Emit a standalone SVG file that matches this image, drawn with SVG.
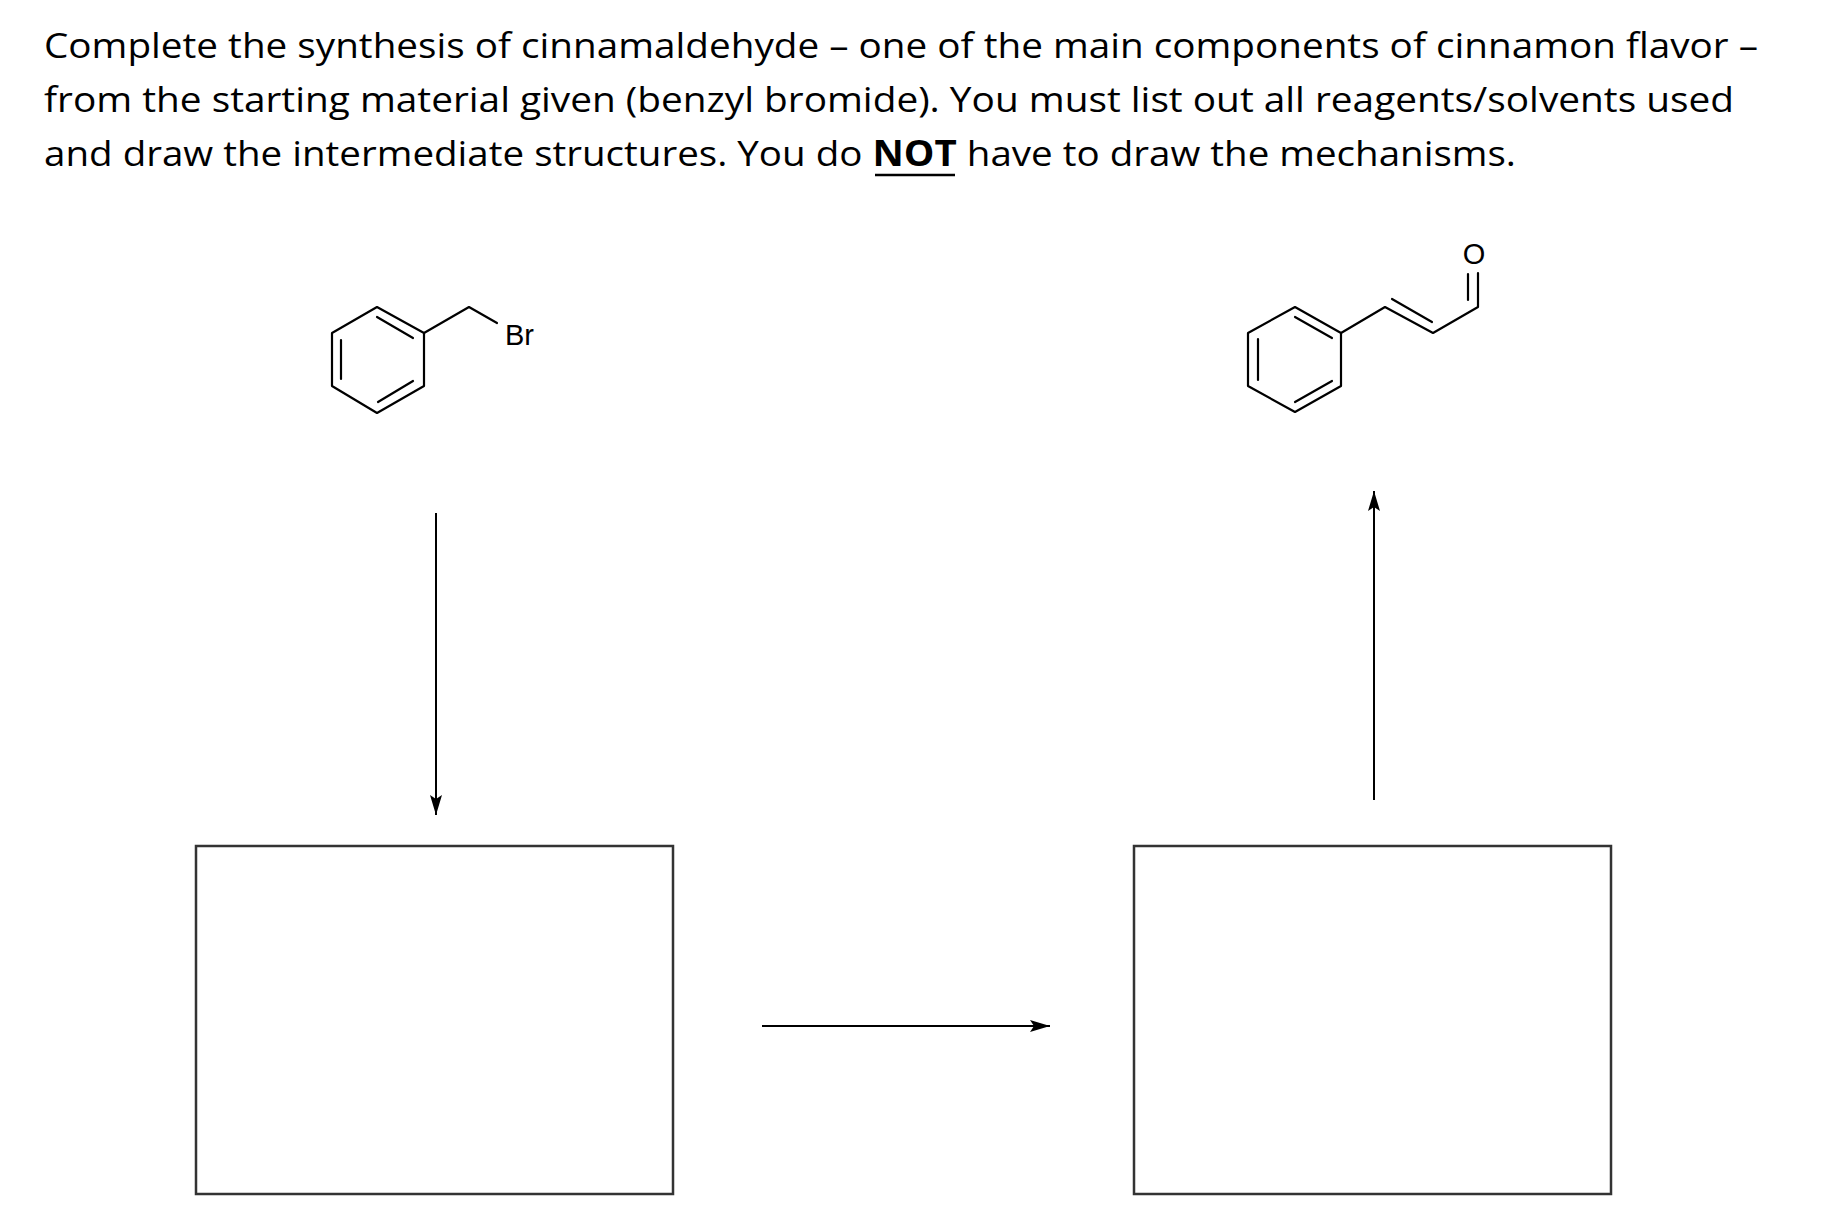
<svg xmlns="http://www.w3.org/2000/svg" width="1822" height="1222" viewBox="0 0 1822 1222">
<style>
.t{font-family:"Open Sans","Liberation Sans",sans-serif;font-size:35px;fill:#000}
.b{fill:none;stroke:#000;stroke-width:2.2;stroke-linecap:round;stroke-linejoin:round}
.bx{fill:none;stroke:#333;stroke-width:2.5}
.c{fill:none;stroke:#000;stroke-width:2}
.a{font-family:"Liberation Sans",Arial,sans-serif;font-size:29px;fill:#000}
</style>
<defs>
<marker id="ah" viewBox="0 0 20 12" refX="20" refY="6" markerWidth="20" markerHeight="12" markerUnits="userSpaceOnUse" orient="auto">
<path d="M0,0 L20,6 L0,12 L4,6 Z" fill="#000"/>
</marker>
</defs>
<rect width="1822" height="1222" fill="#fff"/>
<g id="question">
<text class="t" x="44" y="58" textLength="1714" lengthAdjust="spacingAndGlyphs">Complete the synthesis of cinnamaldehyde – one of the main components of cinnamon flavor –</text>
<text class="t" x="44" y="112" textLength="1690" lengthAdjust="spacingAndGlyphs">from the starting material given (benzyl bromide). You must list out all reagents/solvents used</text>
<text class="t" x="44" y="166" textLength="1472" lengthAdjust="spacingAndGlyphs">and draw the intermediate structures. You do <tspan font-weight="bold">NOT</tspan> have to draw the mechanisms.</text>
<line x1="875" y1="175" x2="955" y2="175" stroke="#000" stroke-width="2.5"/>
</g>
<g id="benzyl-bromide">
<polygon class="b" points="377,307 424,333 424,386 377,413 332,386 332,333"/>
<line class="b" x1="377" y1="317" x2="413" y2="338"/>
<line class="b" x1="341" y1="340" x2="341" y2="379"/>
<line class="b" x1="378" y1="402" x2="413" y2="381"/>
<polyline class="b" points="424,333 469,307 497,323"/>
<text class="a" x="505" y="345">Br</text>
</g>
<g id="cinnamaldehyde">
<polygon class="b" points="1295,307 1341,333 1341,386 1295,412 1248,386 1248,333"/>
<line class="b" x1="1295" y1="317" x2="1332" y2="338"/>
<line class="b" x1="1258" y1="339" x2="1258" y2="380"/>
<line class="b" x1="1295" y1="402" x2="1332" y2="381"/>
<polyline class="b" points="1341,333 1385,307 1433,333 1478,307 1478,273"/>
<line class="b" x1="1392" y1="299" x2="1432" y2="322"/>
<line class="b" x1="1468" y1="274" x2="1468" y2="300"/>
<text class="a" x="1474" y="264" text-anchor="middle">O</text>
</g>
<g id="box-left"><rect class="bx" x="196" y="846" width="477" height="348"/></g>
<g id="box-right"><rect class="bx" x="1134" y="846" width="477" height="348"/></g>
<g id="connectors">
<line class="c" x1="436" y1="513" x2="436" y2="815" marker-end="url(#ah)"/>
<line class="c" x1="1374" y1="800" x2="1374" y2="491" marker-end="url(#ah)"/>
<line class="c" x1="762" y1="1026" x2="1050" y2="1026" marker-end="url(#ah)"/>
</g>
</svg>
